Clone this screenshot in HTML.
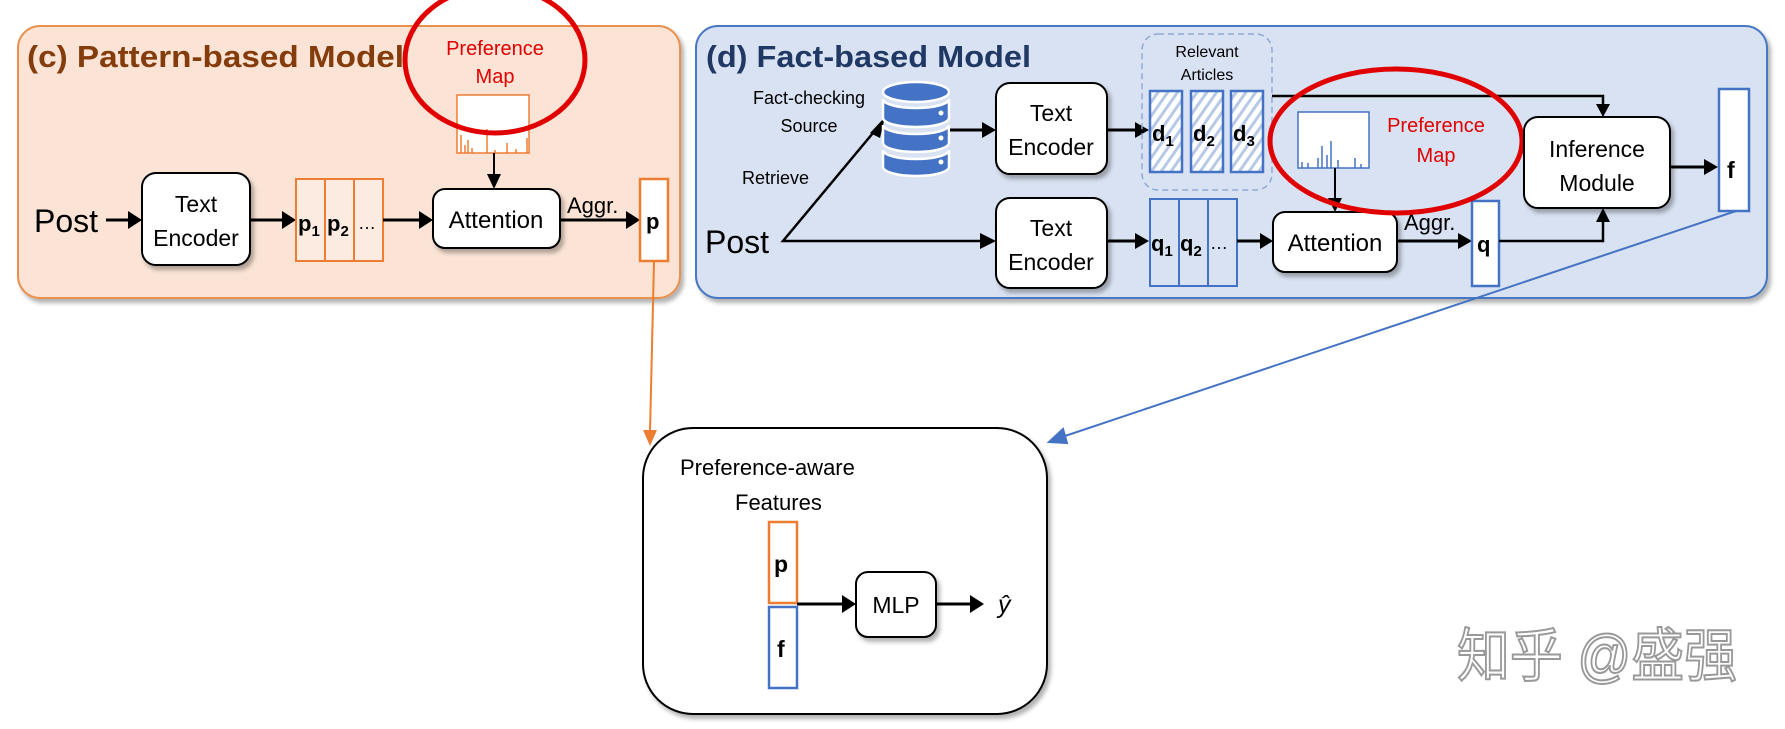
<!DOCTYPE html>
<html><head><meta charset="utf-8"><style>
html,body{margin:0;padding:0;background:#fff}
svg{display:block}
text{font-family:"Liberation Sans",sans-serif}
</style></head><body>
<svg width="1785" height="729" viewBox="0 0 1785 729" xmlns="http://www.w3.org/2000/svg">
<defs>
<pattern id="hatch" width="8" height="8" patternUnits="userSpaceOnUse" patternTransform="rotate(35)"><rect width="8" height="8" fill="#fff"/><rect width="3" height="8" fill="#b7c9e6"/></pattern>
<filter id="sh" x="-10%" y="-10%" width="130%" height="130%"><feDropShadow dx="3" dy="4" stdDeviation="2" flood-color="#000" flood-opacity="0.3"/></filter>
</defs>
<!-- panels -->
<rect x="18" y="26" width="662" height="272" rx="22" fill="#fbe4d5" stroke="#e8914f" stroke-width="2" filter="url(#sh)"/>
<rect x="696" y="26" width="1071" height="272" rx="22" fill="#d9e2f2" stroke="#4a78c2" stroke-width="2" filter="url(#sh)"/>
<text x="27" y="67" font-size="31" font-weight="bold" fill="#843c0c" textLength="377" lengthAdjust="spacingAndGlyphs">(c) Pattern-based Model</text>
<text x="706" y="67" font-size="31" font-weight="bold" fill="#1f3864" textLength="325" lengthAdjust="spacingAndGlyphs">(d) Fact-based Model</text>

<!-- left panel -->
<text x="34" y="232" font-size="32">Post</text>
<line x1="106" y1="220" x2="130" y2="220" stroke="#000" stroke-width="3"/><path d="M128,211 L142,220 L128,229Z"/>
<rect x="142" y="173" width="108" height="92" rx="14" fill="#fff" stroke="#000" stroke-width="2" filter="url(#sh)"/>
<text x="196" y="212" font-size="23" text-anchor="middle">Text</text>
<text x="196" y="246" font-size="23" text-anchor="middle">Encoder</text>
<line x1="250" y1="220" x2="285" y2="220" stroke="#000" stroke-width="3"/><path d="M282,211 L296,220 L282,229Z"/>
<rect x="296" y="179" width="29" height="82" fill="#fcebe0" stroke="#ed7d31" stroke-width="2"/>
<rect x="325" y="179" width="29" height="82" fill="#fcebe0" stroke="#ed7d31" stroke-width="2"/>
<rect x="354" y="179" width="29" height="82" fill="#fcebe0" stroke="#ed7d31" stroke-width="2"/>
<text x="298" y="231" font-size="22" font-weight="bold">p<tspan font-size="15" dy="5">1</tspan></text>
<text x="327" y="231" font-size="22" font-weight="bold">p<tspan font-size="15" dy="5">2</tspan></text>
<text x="358" y="229" font-size="18">…</text>
<line x1="383" y1="220" x2="422" y2="220" stroke="#000" stroke-width="3"/><path d="M419,211 L433,220 L419,229Z"/>
<rect x="433" y="189" width="127" height="59" rx="12" fill="#fff" stroke="#000" stroke-width="2" filter="url(#sh)"/>
<text x="496" y="228" font-size="24" text-anchor="middle">Attention</text>
<line x1="560" y1="220" x2="628" y2="220" stroke="#000" stroke-width="3"/><path d="M626,211 L640,220 L626,229Z"/>
<text x="567" y="213" font-size="22">Aggr.</text>
<rect x="640" y="179" width="28" height="82" fill="#fff" stroke="#ed7d31" stroke-width="2.5"/>
<text x="646" y="229" font-size="22" font-weight="bold">p</text>
<!-- pref map left -->
<rect x="457" y="95" width="72" height="58" fill="#fff" stroke="#ed7d31" stroke-width="1.5"/>
<g stroke="#ed7d31" stroke-width="1.5"><line x1="461" y1="153" x2="461" y2="135"/><line x1="465" y1="153" x2="465" y2="145"/><line x1="468" y1="153" x2="468" y2="140"/><line x1="472" y1="153" x2="472" y2="148"/><line x1="487" y1="153" x2="487" y2="129"/><line x1="495" y1="153" x2="495" y2="150"/><line x1="507" y1="153" x2="507" y2="143"/><line x1="516" y1="153" x2="516" y2="149"/><line x1="527" y1="153" x2="527" y2="138"/></g>
<line x1="494" y1="153" x2="494" y2="176" stroke="#000" stroke-width="2"/><path d="M487,174 L494,189 L501,174Z"/>
<ellipse cx="495" cy="60" rx="90" ry="73" fill="none" stroke="#e00000" stroke-width="5"/>
<text x="495" y="55" font-size="20" fill="#e00000" text-anchor="middle">Preference</text>
<text x="495" y="83" font-size="20" fill="#e00000" text-anchor="middle">Map</text>
<!-- orange connector -->
<line x1="654" y1="261" x2="650" y2="432" stroke="#ed7d31" stroke-width="2"/><path d="M643,430 L650,446 L657,430Z" fill="#ed7d31"/>

<!-- right panel -->
<text x="809" y="104" font-size="18" text-anchor="middle">Fact-checking</text>
<text x="809" y="132" font-size="18" text-anchor="middle">Source</text>
<text x="742" y="184" font-size="18">Retrieve</text>
<text x="705" y="253" font-size="32">Post</text>
<polyline points="878,127 783,241 984,241" fill="none" stroke="#000" stroke-width="2.5"/>
<path d="M870,133 L885,117 L880,138Z"/>
<path d="M980,233 L996,241 L980,249Z"/>
<!-- database -->
<g fill="#4472c4" stroke="#fff" stroke-width="2.5">
<path d="M883,150 v17 a33,9 0 0 0 66,0 v-17 a33,9 0 0 1 -66,0Z"/>
<path d="M883,125 v18 a33,9 0 0 0 66,0 v-18 a33,9 0 0 1 -66,0Z"/>
<path d="M883,99 v19 a33,9 0 0 0 66,0 v-19 a33,9 0 0 1 -66,0Z"/>
<ellipse cx="916" cy="92" rx="33" ry="10"/>
</g>
<g fill="#fff"><circle cx="941" cy="113" r="2.5"/><circle cx="941" cy="138" r="2.5"/><circle cx="941" cy="162" r="2.5"/></g>
<line x1="950" y1="130" x2="985" y2="130" stroke="#000" stroke-width="3"/><path d="M982,122 L996,130 L982,138Z"/>
<rect x="996" y="83" width="111" height="91" rx="14" fill="#fff" stroke="#000" stroke-width="2" filter="url(#sh)"/>
<text x="1051" y="121" font-size="23" text-anchor="middle">Text</text>
<text x="1051" y="155" font-size="23" text-anchor="middle">Encoder</text>
<rect x="996" y="198" width="111" height="90" rx="14" fill="#fff" stroke="#000" stroke-width="2" filter="url(#sh)"/>
<text x="1051" y="236" font-size="23" text-anchor="middle">Text</text>
<text x="1051" y="270" font-size="23" text-anchor="middle">Encoder</text>
<line x1="1107" y1="130" x2="1137" y2="130" stroke="#000" stroke-width="3"/><path d="M1135,122 L1149,130 L1135,138Z"/>
<rect x="1142" y="34" width="130" height="156" rx="16" fill="none" stroke="#8fa9d6" stroke-width="1.5" stroke-dasharray="6,4"/>
<text x="1207" y="57" font-size="16" text-anchor="middle">Relevant</text>
<text x="1207" y="80" font-size="16" text-anchor="middle">Articles</text>
<rect x="1150" y="91" width="32" height="81" fill="url(#hatch)" stroke="#4472c4" stroke-width="2.5"/>
<rect x="1191" y="91" width="32" height="81" fill="url(#hatch)" stroke="#4472c4" stroke-width="2.5"/>
<rect x="1231" y="91" width="32" height="81" fill="url(#hatch)" stroke="#4472c4" stroke-width="2.5"/>
<text x="1152" y="141" font-size="22" font-weight="bold">d<tspan font-size="15" dy="5">1</tspan></text>
<text x="1193" y="141" font-size="22" font-weight="bold">d<tspan font-size="15" dy="5">2</tspan></text>
<text x="1233" y="141" font-size="22" font-weight="bold">d<tspan font-size="15" dy="5">3</tspan></text>
<polyline points="1272,96 1603,96 1603,106" fill="none" stroke="#000" stroke-width="2.5"/><path d="M1596,104 L1603,117 L1610,104Z"/>
<line x1="1107" y1="241" x2="1137" y2="241" stroke="#000" stroke-width="3"/><path d="M1135,233 L1149,241 L1135,249Z"/>
<rect x="1150" y="199" width="29" height="87" fill="#d9e2f2" stroke="#4472c4" stroke-width="2"/>
<rect x="1179" y="199" width="29" height="87" fill="#d9e2f2" stroke="#4472c4" stroke-width="2"/>
<rect x="1208" y="199" width="29" height="87" fill="#d9e2f2" stroke="#4472c4" stroke-width="2"/>
<text x="1151" y="251" font-size="22" font-weight="bold">q<tspan font-size="15" dy="5">1</tspan></text>
<text x="1180" y="251" font-size="22" font-weight="bold">q<tspan font-size="15" dy="5">2</tspan></text>
<text x="1210" y="249" font-size="18">…</text>
<line x1="1237" y1="241" x2="1262" y2="241" stroke="#000" stroke-width="3"/><path d="M1260,233 L1273,241 L1260,249Z"/>
<rect x="1273" y="212" width="124" height="60" rx="12" fill="#fff" stroke="#000" stroke-width="2" filter="url(#sh)"/>
<text x="1335" y="251" font-size="24" text-anchor="middle">Attention</text>
<text x="1404" y="230" font-size="22">Aggr.</text>
<line x1="1397" y1="241" x2="1460" y2="241" stroke="#000" stroke-width="3"/><path d="M1458,233 L1472,241 L1458,249Z"/>
<rect x="1472" y="201" width="27" height="85" fill="#fff" stroke="#4472c4" stroke-width="2.5"/>
<text x="1477" y="252" font-size="22" font-weight="bold">q</text>
<polyline points="1499,241 1603,241 1603,220" fill="none" stroke="#000" stroke-width="2.5"/><path d="M1596,222 L1603,208 L1610,222Z"/>
<!-- pref map right -->
<rect x="1298" y="112" width="71" height="56" fill="#fff" stroke="#4472c4" stroke-width="1.5"/>
<g stroke="#4472c4" stroke-width="1.5"><line x1="1302" y1="168" x2="1302" y2="162"/><line x1="1308" y1="168" x2="1308" y2="163"/><line x1="1318" y1="168" x2="1318" y2="158"/><line x1="1322" y1="168" x2="1322" y2="146"/><line x1="1327" y1="168" x2="1327" y2="155"/><line x1="1331" y1="168" x2="1331" y2="141"/><line x1="1338" y1="168" x2="1338" y2="160"/><line x1="1355" y1="168" x2="1355" y2="158"/><line x1="1361" y1="168" x2="1361" y2="164"/></g>
<line x1="1335" y1="168" x2="1335" y2="200" stroke="#000" stroke-width="2"/><path d="M1328,198 L1335,212 L1342,198Z"/>
<ellipse cx="1396" cy="141" rx="126" ry="72" fill="none" stroke="#e00000" stroke-width="5"/>
<text x="1436" y="132" font-size="20" fill="#e00000" text-anchor="middle">Preference</text>
<text x="1436" y="162" font-size="20" fill="#e00000" text-anchor="middle">Map</text>
<rect x="1524" y="117" width="146" height="91" rx="14" fill="#fff" stroke="#000" stroke-width="2" filter="url(#sh)"/>
<text x="1597" y="157" font-size="23" text-anchor="middle">Inference</text>
<text x="1597" y="191" font-size="23" text-anchor="middle">Module</text>
<line x1="1670" y1="167" x2="1706" y2="167" stroke="#000" stroke-width="3"/><path d="M1704,159 L1718,167 L1704,175Z"/>
<rect x="1719" y="89" width="30" height="122" fill="#fff" stroke="#4472c4" stroke-width="2.5"/>
<text x="1727" y="178" font-size="23" font-weight="bold">f</text>
<!-- blue connector -->
<line x1="1736" y1="211" x2="1062" y2="437" stroke="#4472c4" stroke-width="2"/><path d="M1063,429 L1049,442 L1067,443Z" fill="#4472c4" stroke="#4472c4" stroke-width="2"/>

<!-- bottom box -->
<rect x="643" y="428" width="404" height="286" rx="50" fill="#fff" stroke="#000" stroke-width="2" filter="url(#sh)"/>
<text x="680" y="475" font-size="22">Preference-aware</text>
<text x="735" y="510" font-size="22">Features</text>
<rect x="769" y="522" width="28" height="81" fill="#fff" stroke="#ed7d31" stroke-width="2.5"/>
<rect x="769" y="607" width="28" height="81" fill="#fff" stroke="#4472c4" stroke-width="2.5"/>
<text x="774" y="572" font-size="23" font-weight="bold">p</text>
<text x="777" y="657" font-size="23" font-weight="bold">f</text>
<line x1="797" y1="604" x2="844" y2="604" stroke="#000" stroke-width="3"/><path d="M842,595 L856,604 L842,613Z"/>
<rect x="856" y="572" width="80" height="65" rx="12" fill="#fff" stroke="#000" stroke-width="2" filter="url(#sh)"/>
<text x="896" y="613" font-size="23" text-anchor="middle">MLP</text>
<line x1="936" y1="604" x2="972" y2="604" stroke="#000" stroke-width="3"/><path d="M970,595 L984,604 L970,613Z"/>
<text x="998" y="613" font-size="25" font-style="italic" font-family="Liberation Serif,serif">ŷ</text>

<text x="1457" y="676" font-size="58" fill="#fff" stroke="#999" stroke-width="2" textLength="280" lengthAdjust="spacingAndGlyphs" font-family="'Liberation Sans','Noto Sans CJK SC',sans-serif">知乎 @盛强</text>
</svg>
</body></html>
